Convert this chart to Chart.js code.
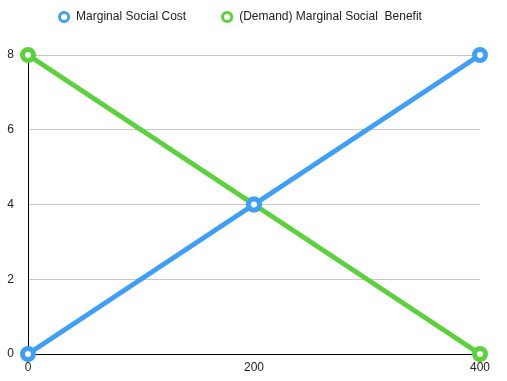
<!DOCTYPE html>
<html><head><meta charset="utf-8">
<script src="https://cdn.jsdelivr.net/npm/chart.js@4"></script>
<style>html,body{margin:0;padding:0;background:#fff}#wrap{width:507px;height:381px}</style>
</head><body><div id="wrap"><canvas id="c" width="507" height="381"></canvas></div>
<script>
const quantities = [0, 200, 400];
const marginalSocialCost = [0, 4, 8];
const marginalSocialBenefit = [8, 4, 0];
const seriesNames = ["Marginal Social Cost", "(Demand) Marginal Social  Benefit"];
const xTicks = [0, 200, 400];
const yTicks = [0, 2, 4, 6, 8];

const blue = "#3f9ff6";
const green = "#5bd23b";
function toPts(xs, ys){ return xs.map((x,i)=>({x:x, y:ys[i]})); }

Chart.defaults.font.family = "'Liberation Sans', Arial, Helvetica, sans-serif";
Chart.defaults.font.size = 12;
Chart.defaults.color = "#222";

const legendPad = 35;
const topOffset = -24;

new Chart(document.getElementById('c'), {
  type: 'line',
  data: {
    datasets: [
      {label: seriesNames[0], data: toPts(quantities, marginalSocialCost), borderColor: blue, backgroundColor: '#fff',
       borderWidth: 5, pointRadius: 5.5, pointBorderWidth: 5, pointBackgroundColor: '#fff', pointBorderColor: blue, tension: 0},
      {label: seriesNames[1], data: toPts(quantities, marginalSocialBenefit), borderColor: green, backgroundColor: '#fff',
       borderWidth: 5, pointRadius: 5.5, pointBorderWidth: 5, pointBackgroundColor: '#fff', pointBorderColor: green, tension: 0}
    ]
  },
  options: {
    responsive: false, animation: false, clip: false,
    layout: {padding: {left: 0, right: 27, top: topOffset, bottom: 0}},
    plugins: {
      tooltip: {enabled: false},
      legend: {
        position: 'top',
        labels: {usePointStyle: true, pointStyle: 'circle', boxHeight: 6.5, boxWidth: 14, padding: legendPad,
          generateLabels: function(chart){
            return chart.data.datasets.map((d,i)=>({text: d.label, fillStyle: '#fff', strokeStyle: d.borderColor,
              lineWidth: 3, pointStyle: 'circle', hidden: false, datasetIndex: i, fontColor: '#222'}));
          }}
      }
    },
    scales: {
      x: {type: 'linear', min: 0, max: 400,
        afterBuildTicks: s => { s.ticks = xTicks.map(v=>({value:v})); },
        afterFit: s => { s.height = 27; },
        grid: {display: false, drawTicks: false},
        border: {display: true, color: '#000', width: 1},
        ticks: {padding: 6, color: '#222', maxRotation: 0}
      },
      y: {min: 0, max: 8,
        afterBuildTicks: s => { s.ticks = yTicks.map(v=>({value:v})); },
        afterFit: s => { s.width = 28; },
        grid: {color: ctx => ctx.tick && ctx.tick.value === 0 ? '#000' : '#c8c8c8', drawTicks: false, lineWidth: 1},
        border: {display: true, color: '#000', width: 1},
        ticks: {padding: 14, color: '#222'}
      }
    }
  },
  plugins: [{
    id: 'legendFit',
    beforeInit(chart){
      const lg = chart.legend;
      if (lg) {
        const f = lg.fit;
        lg.fit = function(){ f.call(this); this.height = 55 - topOffset; };
      }
    }
  }]
});
</script></body></html>
